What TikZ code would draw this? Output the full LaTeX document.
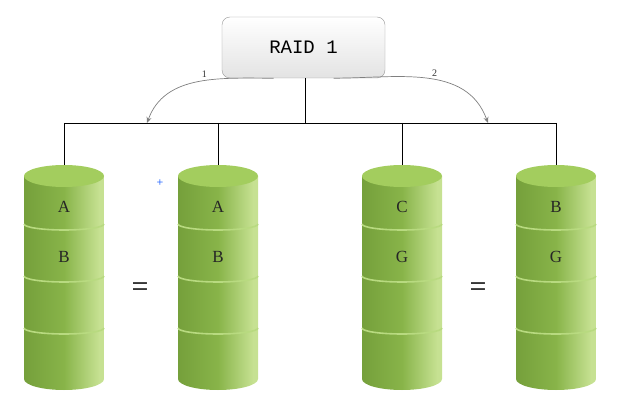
\documentclass[tikz,border=0pt]{standalone}
\usepackage{fontspec}
\setmainfont{Liberation Serif}
\newfontfamily\monof{Liberation Mono}
\usetikzlibrary{arrows.meta}
\definecolor{gdark}{HTML}{6A9433}
\definecolor{gmid}{HTML}{88B449}
\definecolor{ghl}{HTML}{C6E192}
\definecolor{gtop}{HTML}{A3CD5E}
\definecolor{gline}{HTML}{B8DA80}
\pgfdeclarehorizontalshading{cylshade}{100bp}{color(0bp)=(gdark); color(10bp)=(gdark); color(50bp)=(gmid); color(72bp)=(ghl); color(82bp)=(ghl); color(100bp)=(gmid)}
\tikzset{
  conn/.style={draw=black, line width=0.7pt},
  curvearrow/.style={draw=gray, line width=0.7pt, -{Stealth[length=6pt,width=5pt]}},
  lbl/.style={font=\fontsize{10}{12}\selectfont, text=black!80},
  disk/.style={font=\fontsize{17}{20}\selectfont, text=black!85},
}
\newcommand{\mycyl}[2]{%
  \begin{scope}[shift={(#1,0)}]
    \shade[shading=cylshade] (-40,176) -- (-40,379) arc[start angle=180,end angle=0,x radius=40,y radius=11] -- (40,176) -- cycle;
    \foreach \yy in {230,282,334} {
      \draw[gline, line width=1.6pt] (-40,\yy-6) arc[start angle=180,end angle=0,x radius=40,y radius=6];
    }
    \fill[gtop] (0,176) ellipse[x radius=40,y radius=11];
    \coordinate (#2) at (0,165);
  \end{scope}}
\begin{document}
\begin{tikzpicture}[x=1pt,y=-1pt]
\useasboundingbox (0,0) rectangle (640,417);
\node[draw=gray!80, rounded corners=8pt, top color=white, bottom color=gray!22, minimum width=163pt, minimum height=61pt, inner sep=0pt, font=\monof\fontsize{19}{22}\selectfont] (raid) at (303.5,47.5) {RAID 1};
\mycyl{64}{c1}
\mycyl{218}{c2}
\mycyl{402}{c3}
\mycyl{556}{c4}
\coordinate (hub) at (305,123);
\coordinate (h1) at (64,123);
\coordinate (h2) at (218,123);
\coordinate (h3) at (402,123);
\coordinate (h4) at (556,123);
\coordinate (t1) at (147,123);
\coordinate (t2) at (488,123);
\draw[conn] (raid.south -| hub) -- (hub);
\draw[conn] (h1) -- (h4);
\draw[conn] (h1) -- (c1);
\draw[conn] (h2) -- (c2);
\draw[conn] (h3) -- (c3);
\draw[conn] (h4) -- (c4);
\draw[curvearrow] ([xshift=-30pt]raid.south) to[out=180,in=70] node[pos=0.45, above, lbl] {1} (t1);
\draw[curvearrow] ([xshift=30pt]raid.south) to[out=0,in=110] node[pos=0.55, above, lbl] {2} (t2);
\node[disk] (a1) at (64,207) {A};
\node[disk] (b1) at (64,257) {B};
\node[disk] (a2) at (218,207) {A};
\node[disk] (b2) at (218,257) {B};
\node[disk] (a3) at (402,207) {C};
\node[disk] (b3) at (402,257) {G};
\node[disk] (a4) at (556,207) {B};
\node[disk] (b4) at (556,257) {G};
\node[font=\fontsize{30}{30}\selectfont] (eq1) at (140,290) {=};
\node[font=\fontsize{30}{30}\selectfont] (eq2) at (478,290) {=};
\node[text=blue!70!cyan, font=\fontsize{12}{12}\selectfont] (plus) at (160,183) {+};
\end{tikzpicture}
\end{document}
